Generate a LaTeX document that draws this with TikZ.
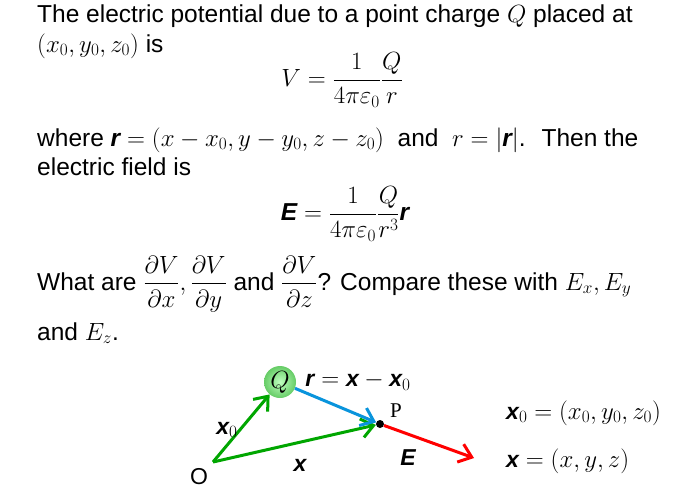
\documentclass[tikz,border=0pt]{standalone}
\usepackage{amsmath}
\usepackage{fontspec}
\setmainfont{Liberation Sans}
\newfontfamily\serf{Liberation Serif}
\newcommand{\bv}[1]{\text{\bfseries\itshape #1}}
\usetikzlibrary{arrows.meta}
\begin{document}
\begin{tikzpicture}[x=1pt,y=-1pt,
  txt/.style={anchor=base west,inner sep=0pt,font=\fontsize{24.5}{28}\selectfont},
  lab/.style={inner sep=1pt,font=\fontsize{23}{26}\selectfont},
  vec/.style={line width=3pt,-{Straight Barb[length=12pt,width=19pt,line width=3pt]}}]
\useasboundingbox (0,0) rectangle (700,499);
\node[txt] (l1) at (37,22) {The electric potential due to a point charge $Q$ placed at};
\node[txt] (l2) at (37,52) {$(x_0,y_0,z_0)$ is};
\node[txt,anchor=center] (f1) at (342,80) {$V=\dfrac{1}{4\pi\varepsilon_0}\dfrac{Q}{r}$};
\node[txt] (l3) at (37,146) {where $\bv{r}=(x-x_0,y-y_0,z-z_0)$ \ and \ $r=|\bv{r}|$. \ Then the};
\node[txt] (l4) at (37,175) {electric field is};
\node[txt,anchor=center] (f2) at (345,214) {$\bv{E}=\dfrac{1}{4\pi\varepsilon_0}\dfrac{Q}{r^3}\bv{r}$};
\node[txt] (l5) at (37,290) {What are $\dfrac{\partial V}{\partial x},\dfrac{\partial V}{\partial y}$ and $\dfrac{\partial V}{\partial z}$? Compare these with $E_x, E_y$};
\node[txt] (l6) at (37,340) {and $E_z$.};
\coordinate (O) at (213,462);
\node[circle,minimum size=32pt,inner sep=0pt,inner color=green!25!white,outer color=green!50!gray!80,
  font=\fontsize{23}{26}\selectfont] (Q) at (280,382) {$Q$};
\node[circle,fill=black,inner sep=0pt,minimum size=8pt] (P) at (380,424) {};
\coordinate (Eend) at (474,458);
\draw[vec,green!65!black] (O) -- (Q);
\draw[vec,green!65!black] (O) -- (P);
\draw[vec,cyan!80!blue] (Q) -- (P);
\draw[vec,red] (P) -- (Eend);
\node[lab] (ol) at (199,477) {O};
\node[lab,font=\serf\fontsize{21}{24}\selectfont] (pl) at (396,411) {P};
\node[lab] (x0l) at (227,430) {$\bv{x}_0$};
\node[lab] (xl) at (300,465) {$\bv{x}$};
\node[lab] (el) at (408,458) {$\bv{E}$};
\node[lab] (rl) at (358,381) {$\bv{r}=\bv{x}-\bv{x}_0$};
\node[lab,anchor=west] (eq1) at (505,413) {$\bv{x}_0=\left(x_0,y_0,z_0\right)$};
\node[lab,anchor=west] (eq2) at (505,461) {$\bv{x}=\left(x,y,z\right)$};
\end{tikzpicture}
\end{document}
